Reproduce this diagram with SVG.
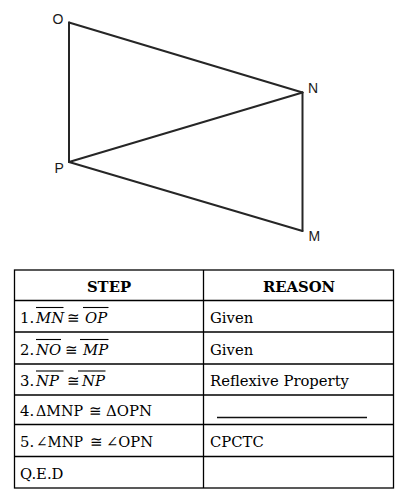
<svg xmlns="http://www.w3.org/2000/svg" width="406" height="499" viewBox="0 0 406 499">
<style>
.edge{stroke:#262626;stroke-width:2;fill:none;stroke-linecap:round}
.lbl{font-family:"Liberation Sans",Arial,sans-serif;font-size:14px;fill:#1a1a1a}
.grid{stroke:#000;stroke-width:1.3;fill:none}
.t{font-family:"DejaVu Serif","Liberation Serif",serif;font-size:14.8px;fill:#000}
.h{font-family:"DejaVu Serif","Liberation Serif",serif;font-size:14.8px;font-weight:bold;fill:#000}
.it{font-style:italic}
.ov{stroke:#000;stroke-width:1.1}
</style>
<rect width="406" height="499" fill="#fff"/>
<g id="connectors">
<line class="edge" x1="69" y1="22.5" x2="302.5" y2="92.5"/>
<line class="edge" x1="69" y1="22.5" x2="69" y2="162"/>
<line class="edge" x1="69" y1="162" x2="302.5" y2="92.5"/>
<line class="edge" x1="69" y1="162" x2="302.5" y2="231"/>
<line class="edge" x1="302.5" y1="92.5" x2="302.5" y2="231"/>
</g>
<g id="node-O"><text class="lbl" x="52.5" y="24">O</text></g>
<g id="node-N"><text class="lbl" x="308" y="93">N</text></g>
<g id="node-P"><text class="lbl" x="54.5" y="173">P</text></g>
<g id="node-M"><text class="lbl" x="308.5" y="241">M</text></g>
<g id="table">
<rect class="grid" x="14.5" y="270" width="379" height="218"/>
<line class="grid" x1="203.5" y1="270" x2="203.5" y2="488"/>
<line class="grid" x1="14.5" y1="300.5" x2="393.5" y2="300.5"/>
<line class="grid" x1="14.5" y1="332" x2="393.5" y2="332"/>
<line class="grid" x1="14.5" y1="364" x2="393.5" y2="364"/>
<line class="grid" x1="14.5" y1="395" x2="393.5" y2="395"/>
<line class="grid" x1="14.5" y1="424.5" x2="393.5" y2="424.5"/>
<line class="grid" x1="14.5" y1="456.5" x2="393.5" y2="456.5"/>
<text class="h" x="109" y="292" text-anchor="middle">STEP</text>
<text class="h" x="299" y="292" text-anchor="middle">REASON</text>
<text class="t" x="20" y="323">1.</text>
<text class="t it" x="36" y="323">MN</text>
<text class="t" x="67" y="323">≅</text>
<text class="t it" x="85" y="323">OP</text>
<line class="ov" x1="36" y1="307.5" x2="63.5" y2="307.5"/>
<line class="ov" x1="83" y1="307.5" x2="108.5" y2="307.5"/>
<text class="t" x="20" y="354.5">2.</text>
<text class="t it" x="36" y="354.5">NO</text>
<text class="t" x="65" y="354.5">≅</text>
<text class="t it" x="83" y="354.5">MP</text>
<line class="ov" x1="36" y1="339.5" x2="61" y2="339.5"/>
<line class="ov" x1="80" y1="339.5" x2="108.5" y2="339.5"/>
<text class="t" x="20" y="386">3.</text>
<text class="t it" x="36" y="386">NP</text>
<text class="t" x="67" y="386">≅</text>
<text class="t it" x="82" y="386">NP</text>
<line class="ov" x1="36" y1="371" x2="63.5" y2="371"/>
<line class="ov" x1="78" y1="371" x2="105.5" y2="371"/>
<text class="t" y="415.5"><tspan x="20">4.</tspan><tspan x="36" textLength="47" lengthAdjust="spacingAndGlyphs">ΔMNP</tspan><tspan x="89">≅</tspan><tspan x="106" textLength="46" lengthAdjust="spacingAndGlyphs">ΔOPN</tspan></text>
<text class="t" y="447"><tspan x="20">5.</tspan><tspan x="36" textLength="47" lengthAdjust="spacingAndGlyphs">∠MNP</tspan><tspan x="90">≅</tspan><tspan x="106" textLength="47" lengthAdjust="spacingAndGlyphs">∠OPN</tspan></text>
<text class="t" x="20" y="478.5">Q.E.D</text>
<text class="t" x="210" y="323">Given</text>
<text class="t" x="210" y="354.5">Given</text>
<text class="t" x="210" y="386">Reflexive Property</text>
<line x1="217" y1="417.5" x2="367" y2="417.5" stroke="#111" stroke-width="1.3"/>
<text class="t" x="210" y="447">CPCTC</text>
</g>
</svg>
